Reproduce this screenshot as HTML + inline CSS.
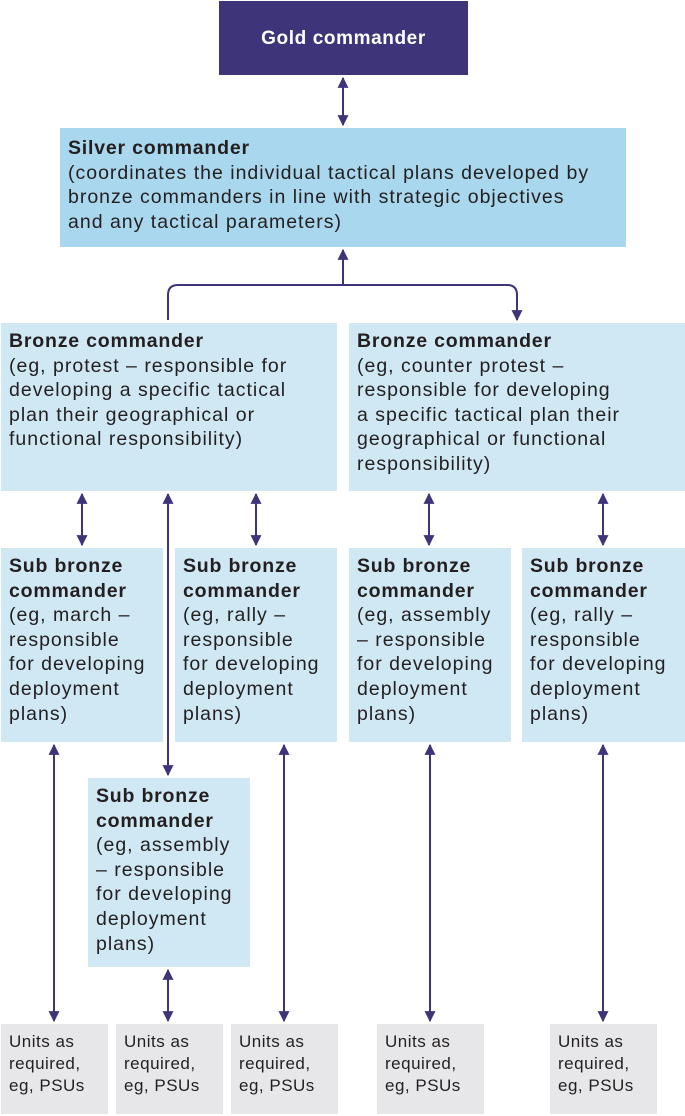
<!DOCTYPE html>
<html><head><meta charset="utf-8"><style>
body{margin:0;width:685px;height:1116px;background:#fff;position:relative;overflow:hidden;font-family:"Liberation Sans",sans-serif;color:#231f20}
.b{position:absolute;box-sizing:border-box;font-size:19.5px;line-height:24.6px;letter-spacing:1px;white-space:nowrap}
.b b{font-weight:bold;letter-spacing:0.8px}
.g{background:#3d347a;color:#fff;text-align:center;font-weight:bold;line-height:75px;font-size:19px;letter-spacing:0.6px}
.s{background:#a9d7ed;padding:8px 8px 0 8px}
.z{background:#cfe8f4;padding:6px 8px 0 8px}
.u{background:#e7e7e9;padding:7px 8px 0 8px;font-size:17px;line-height:22px;letter-spacing:0.5px}
svg{position:absolute;left:0;top:0}
</style></head><body>
<div class="b g" style="left:219px;top:1px;width:249px;height:74px">Gold commander</div>
<div class="b s" style="left:60px;top:128px;width:566px;height:119px"><b>Silver commander</b><br>(coordinates the individual tactical plans developed by<br>bronze commanders in line with strategic objectives<br>and any tactical parameters)</div>
<div class="b z" style="left:1px;top:323px;width:336px;height:168px"><b>Bronze commander</b><br>(eg, protest – responsible for<br>developing a specific tactical<br>plan their geographical or<br>functional responsibility)</div>
<div class="b z" style="left:349px;top:323px;width:336px;height:168px"><b>Bronze commander</b><br>(eg, counter protest –<br>responsible for developing<br>a specific tactical plan their<br>geographical or functional<br>responsibility)</div>
<div class="b z" style="left:1px;top:548px;width:162px;height:194px"><b>Sub bronze<br>commander</b><br>(eg, march –<br>responsible<br>for developing<br>deployment<br>plans)</div>
<div class="b z" style="left:175px;top:548px;width:162px;height:194px"><b>Sub bronze<br>commander</b><br>(eg, rally –<br>responsible<br>for developing<br>deployment<br>plans)</div>
<div class="b z" style="left:349px;top:548px;width:162px;height:194px"><b>Sub bronze<br>commander</b><br>(eg, assembly<br>– responsible<br>for developing<br>deployment<br>plans)</div>
<div class="b z" style="left:522px;top:548px;width:163px;height:194px"><b>Sub bronze<br>commander</b><br>(eg, rally –<br>responsible<br>for developing<br>deployment<br>plans)</div>
<div class="b z" style="left:88px;top:778px;width:162px;height:189px"><b>Sub bronze<br>commander</b><br>(eg, assembly<br>– responsible<br>for developing<br>deployment<br>plans)</div>
<div class="b u" style="left:1px;top:1024px;width:107px;height:90px">Units as<br>required,<br>eg, PSUs</div>
<div class="b u" style="left:116px;top:1024px;width:107px;height:90px">Units as<br>required,<br>eg, PSUs</div>
<div class="b u" style="left:231px;top:1024px;width:107px;height:90px">Units as<br>required,<br>eg, PSUs</div>
<div class="b u" style="left:377px;top:1024px;width:107px;height:90px">Units as<br>required,<br>eg, PSUs</div>
<div class="b u" style="left:550px;top:1024px;width:107px;height:90px">Units as<br>required,<br>eg, PSUs</div>
<svg width="685" height="1116" viewBox="0 0 685 1116">
<defs><marker id="a" viewBox="0 0 10 10" refX="9" refY="5" markerWidth="5.5" markerHeight="6" orient="auto-start-reverse" markerUnits="strokeWidth"><path d="M0 0L10 5L0 10z" fill="#3d347a"/></marker></defs>
<g stroke="#3d347a" stroke-width="2" fill="none">
<line x1="343" y1="78" x2="343" y2="125" marker-start="url(#a)" marker-end="url(#a)"/>
<line x1="343" y1="285" x2="343" y2="250" marker-end="url(#a)"/>
<path d="M168 320V295Q168 285 178 285H507Q517 285 517 295V320" marker-end="url(#a)"/>
<line x1="82" y1="494" x2="82" y2="545" marker-start="url(#a)" marker-end="url(#a)"/>
<line x1="256" y1="494" x2="256" y2="545" marker-start="url(#a)" marker-end="url(#a)"/>
<line x1="429" y1="494" x2="429" y2="545" marker-start="url(#a)" marker-end="url(#a)"/>
<line x1="603" y1="494" x2="603" y2="545" marker-start="url(#a)" marker-end="url(#a)"/>
<line x1="168" y1="494" x2="168" y2="775" marker-start="url(#a)" marker-end="url(#a)"/>
<line x1="54" y1="745" x2="54" y2="1021" marker-start="url(#a)" marker-end="url(#a)"/>
<line x1="284" y1="745" x2="284" y2="1021" marker-start="url(#a)" marker-end="url(#a)"/>
<line x1="430" y1="745" x2="430" y2="1021" marker-start="url(#a)" marker-end="url(#a)"/>
<line x1="603" y1="745" x2="603" y2="1021" marker-start="url(#a)" marker-end="url(#a)"/>
<line x1="168" y1="970" x2="168" y2="1021" marker-start="url(#a)" marker-end="url(#a)"/>
</g></svg>
</body></html>
